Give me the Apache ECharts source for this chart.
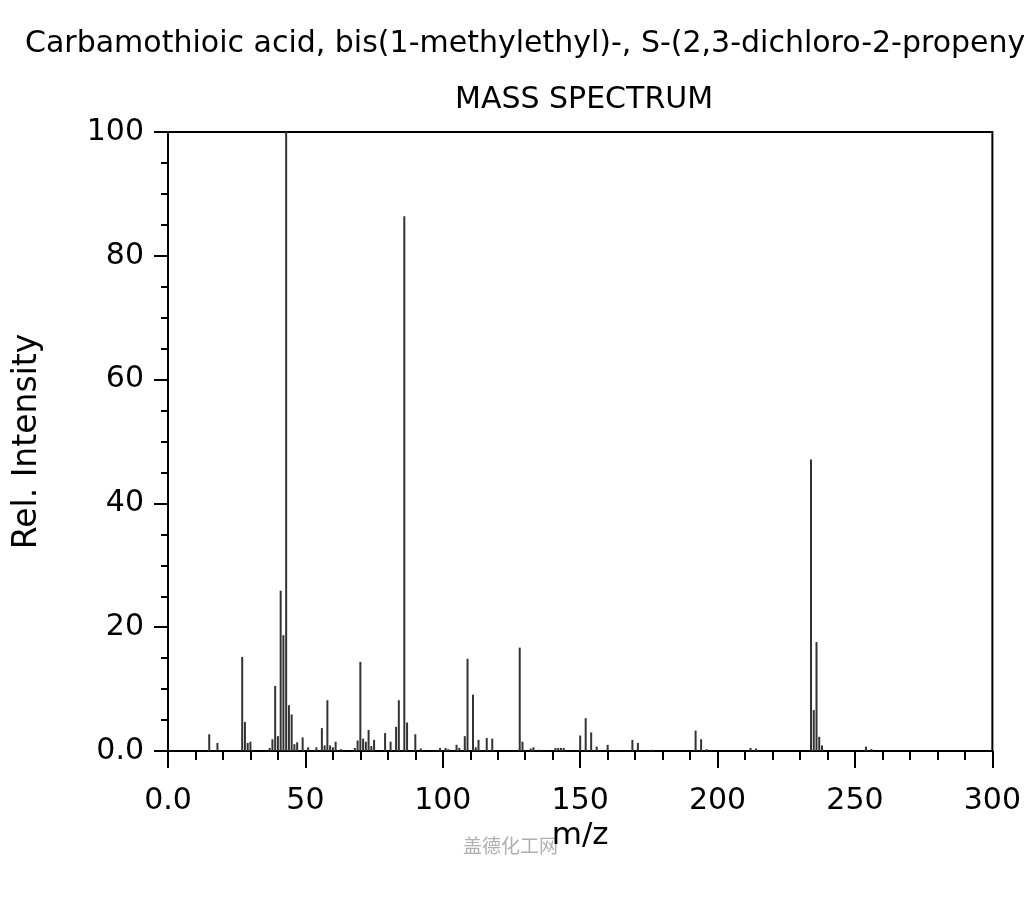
<!DOCTYPE html>
<html>
<head>
<meta charset="utf-8">
<title>Mass spectrum</title>
<script src="https://cdn.jsdelivr.net/npm/echarts@6/dist/echarts.min.js"></script>
<style>
  html, body { margin: 0; padding: 0; background: #fff; overflow: hidden; }
  #chart { width: 1024px; height: 900px; }
</style>
</head>
<body>
<div id="chart"></div>
<script>
// peaks (m/z, relative intensity)
const mz = [15, 18, 27, 28, 29, 30, 37, 38, 39, 40, 41, 42, 43, 44, 45, 46, 47, 49, 51, 54,
  56, 57, 58, 59, 60, 61, 63, 68, 69, 70, 71, 72, 73, 74, 75, 79, 81, 83, 84, 86,
  87, 90, 92, 99, 101, 102, 105, 106, 108, 109, 111, 112, 113, 116, 118, 128, 129, 132, 133, 135,
  141, 142, 143, 144, 150, 152, 154, 156, 160, 169, 171, 176, 192, 194, 196, 212, 214, 234, 235, 236,
  237, 238, 254, 256]
const intensity = [2.7, 1.3, 15.2, 4.7, 1.3, 1.5, 0.5, 1.9, 10.5, 2.4, 25.9, 18.7, 100, 7.4, 5.9, 1.1, 1.4, 2.2, 0.6, 0.6,
  3.7, 0.9, 8.2, 0.9, 0.6, 1.5, 0.3, 0.5, 1.7, 14.4, 2.0, 1.5, 3.4, 0.8, 1.8, 2.9, 1.5, 3.9, 8.2, 86.4,
  4.6, 2.7, 0.4, 0.5, 0.5, 0.3, 1.0, 0.5, 2.4, 14.9, 9.1, 0.6, 1.8, 2.1, 2.0, 16.7, 1.5, 0.4, 0.6, 0.2,
  0.5, 0.5, 0.5, 0.5, 2.5, 5.3, 3.0, 0.7, 1.0, 1.8, 1.3, 0.2, 3.3, 1.9, 0.3, 0.5, 0.4, 47.1, 6.6, 17.6,
  2.3, 0.9, 0.7, 0.3]

const titleText = 'Carbamothioic acid, bis(1-methylethyl)-, S-(2,3-dichloro-2-propenyl) ester'
const subTitle = 'MASS SPECTRUM'

const font = 'DejaVu Sans'
const chart = echarts.init(document.getElementById('chart'))

const fmt = (v) => (v === 0 ? '0.0' : String(v))

chart.setOption({
  animation: false,
  backgroundColor: '#fff',
  title: [
    { text: titleText, left: 20, top: 24, textStyle: { fontFamily: font, fontSize: 30, fontWeight: 'normal', color: '#000' } },
    { text: subTitle, left: 450, top: 80, textStyle: { fontFamily: font, fontSize: 30, fontWeight: 'normal', color: '#000' } }
  ],
  graphic: [{
    type: 'text',
    left: 463,
    top: 836,
    style: { text: '盖德化工网', fill: '#b0b0b0', fontSize: 19, fontFamily: 'Noto Sans CJK SC' }
  }],
  grid: { left: 168, right: 31, top: 132, bottom: 149, show: true, borderColor: '#000', borderWidth: 2, backgroundColor: 'transparent' },
  xAxis: {
    type: 'value',
    min: 0,
    max: 300,
    interval: 50,
    name: 'm/z',
    nameLocation: 'middle',
    nameGap: 54,
    nameTextStyle: { fontFamily: font, fontSize: 31, color: '#000' },
    axisLine: { onZero: false, lineStyle: { color: '#000', width: 2 } },
    axisTick: { length: 17, lineStyle: { color: '#000', width: 2 } },
    minorTick: { show: true, splitNumber: 5, length: 9, lineStyle: { color: '#000', width: 2 } },
    axisLabel: { formatter: fmt, fontFamily: font, fontSize: 30, color: '#000', margin: 35, showMaxLabel: true },
    splitLine: { show: false }
  },
  yAxis: {
    type: 'value',
    min: 0,
    max: 100,
    interval: 20,
    name: 'Rel. Intensity',
    nameLocation: 'middle',
    nameGap: 124,
    nameTextStyle: { fontFamily: font, fontSize: 33, color: '#000' },
    axisLine: { show: true, lineStyle: { color: '#000', width: 2 } },
    axisTick: { show: true, length: 14, lineStyle: { color: '#000', width: 2 } },
    minorTick: { show: true, splitNumber: 4, length: 7, lineStyle: { color: '#000', width: 2 } },
    axisLabel: { formatter: fmt, fontFamily: font, fontSize: 30, color: '#000', margin: 24 },
    splitLine: { show: false }
  },
  series: [{
    type: 'bar',
    barWidth: 2,
    itemStyle: { color: '#333' },
    data: mz.map((m, i) => [m, intensity[i]])
  }]
})
</script>
</body>
</html>
